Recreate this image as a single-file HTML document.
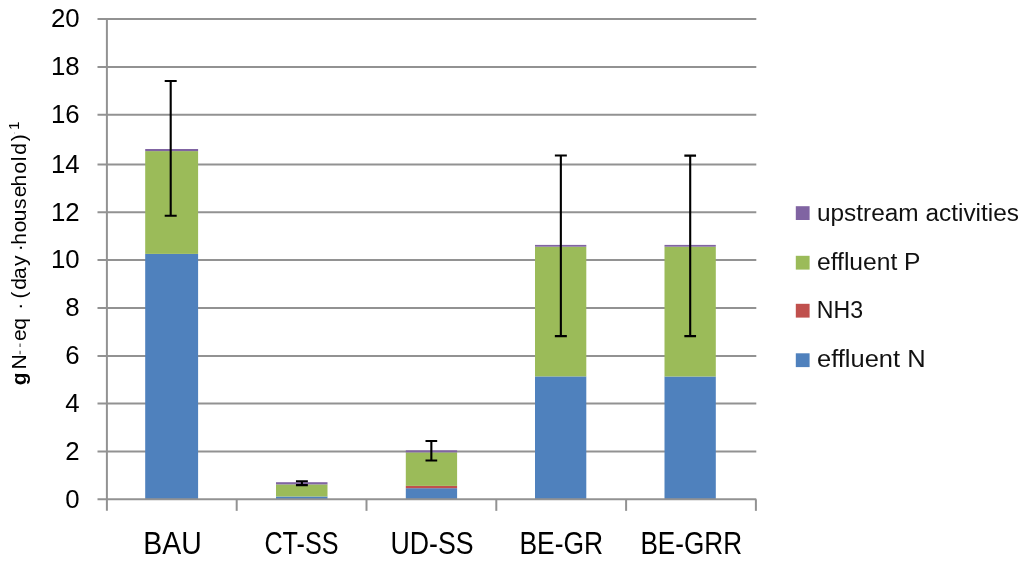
<!DOCTYPE html>
<html><head><meta charset="utf-8"><style>
html,body{margin:0;padding:0;background:#fff;}
svg{display:block;}
text{font-family:"Liberation Sans",sans-serif;fill:#000;}
.yl{font-size:25.8px;}
.cl{font-size:30.5px;}
.lg{font-size:23.5px;fill:#111;}
</style></head><body>
<svg width="1024" height="566" viewBox="0 0 1024 566">
<rect width="1024" height="566" fill="#fff"/>
<line x1="97.5" y1="18.9" x2="756.3" y2="18.9" stroke="#929292" stroke-width="2"/>
<line x1="97.5" y1="67" x2="756.3" y2="67" stroke="#929292" stroke-width="2"/>
<line x1="97.5" y1="114.7" x2="756.3" y2="114.7" stroke="#929292" stroke-width="2"/>
<line x1="97.5" y1="164.4" x2="756.3" y2="164.4" stroke="#929292" stroke-width="2"/>
<line x1="97.5" y1="212.3" x2="756.3" y2="212.3" stroke="#929292" stroke-width="2"/>
<line x1="97.5" y1="260" x2="756.3" y2="260" stroke="#929292" stroke-width="2"/>
<line x1="97.5" y1="308" x2="756.3" y2="308" stroke="#929292" stroke-width="2"/>
<line x1="97.5" y1="355.9" x2="756.3" y2="355.9" stroke="#929292" stroke-width="2"/>
<line x1="97.5" y1="403.6" x2="756.3" y2="403.6" stroke="#929292" stroke-width="2"/>
<line x1="97.5" y1="451.6" x2="756.3" y2="451.6" stroke="#929292" stroke-width="2"/>
<rect x="145.2" y="253.9" width="52.9" height="245.45" fill="#4F81BD"/>
<rect x="145.2" y="151.1" width="52.9" height="102.8" fill="#9BBB59"/>
<rect x="145.2" y="149" width="52.9" height="2.1" fill="#8064A2"/>
<rect x="276" y="496.5" width="51.5" height="2.85" fill="#4F81BD"/>
<rect x="276" y="484.4" width="51.5" height="12.1" fill="#9BBB59"/>
<rect x="276" y="482.2" width="51.5" height="2.2" fill="#8064A2"/>
<rect x="405.8" y="488.2" width="51.3" height="11.15" fill="#4F81BD"/>
<rect x="405.8" y="485.9" width="51.3" height="2.3" fill="#C0504D"/>
<rect x="405.8" y="452.4" width="51.3" height="33.5" fill="#9BBB59"/>
<rect x="405.8" y="450.3" width="51.3" height="2.1" fill="#8064A2"/>
<rect x="535" y="376.4" width="51.3" height="122.95" fill="#4F81BD"/>
<rect x="535" y="246.7" width="51.3" height="129.7" fill="#9BBB59"/>
<rect x="535" y="244.9" width="51.3" height="1.8" fill="#8064A2"/>
<rect x="664.5" y="376.5" width="51.3" height="122.85" fill="#4F81BD"/>
<rect x="664.5" y="246.7" width="51.3" height="129.8" fill="#9BBB59"/>
<rect x="664.5" y="244.9" width="51.3" height="1.8" fill="#8064A2"/>
<line x1="106.9" y1="17.9" x2="106.9" y2="510.85" stroke="#929292" stroke-width="2"/>
<line x1="97.5" y1="499.35" x2="756.3" y2="499.35" stroke="#929292" stroke-width="2"/>
<line x1="236.7" y1="499.35" x2="236.7" y2="510.85" stroke="#929292" stroke-width="2"/>
<line x1="366.5" y1="499.35" x2="366.5" y2="510.85" stroke="#929292" stroke-width="2"/>
<line x1="496.3" y1="499.35" x2="496.3" y2="510.85" stroke="#929292" stroke-width="2"/>
<line x1="626.1" y1="499.35" x2="626.1" y2="510.85" stroke="#929292" stroke-width="2"/>
<line x1="755.9" y1="499.35" x2="755.9" y2="510.85" stroke="#929292" stroke-width="2"/>
<path d="M170.7 81V215.8M164.7 81H176.7M164.7 215.8H176.7" stroke="#000" stroke-width="2.1" fill="none"/>
<path d="M301.9 481.3V485.1M295.95 481.3H307.85M295.95 485.1H307.85" stroke="#000" stroke-width="2.1" fill="none"/>
<path d="M431.35 441V460.5M425.5 441H437.2M425.5 460.5H437.2" stroke="#000" stroke-width="2.1" fill="none"/>
<path d="M560.85 155.5V336.1M554.85 155.5H566.85M554.85 336.1H566.85" stroke="#000" stroke-width="2.1" fill="none"/>
<path d="M690.2 155.6V336.1M684.35 155.6H696.05M684.35 336.1H696.05" stroke="#000" stroke-width="2.1" fill="none"/>
<text x="79.6" y="27.2" text-anchor="end" class="yl">20</text>
<text x="79.6" y="75.3" text-anchor="end" class="yl">18</text>
<text x="79.6" y="123" text-anchor="end" class="yl">16</text>
<text x="79.6" y="172.7" text-anchor="end" class="yl">14</text>
<text x="79.6" y="220.6" text-anchor="end" class="yl">12</text>
<text x="79.6" y="268.3" text-anchor="end" class="yl">10</text>
<text x="79.6" y="316.3" text-anchor="end" class="yl">8</text>
<text x="79.6" y="364.2" text-anchor="end" class="yl">6</text>
<text x="79.6" y="411.9" text-anchor="end" class="yl">4</text>
<text x="79.6" y="459.9" text-anchor="end" class="yl">2</text>
<text x="79.6" y="507.65" text-anchor="end" class="yl">0</text>
<text x="143.28" y="553.7" class="cl" textLength="58.44" lengthAdjust="spacingAndGlyphs">BAU</text>
<text x="264.43" y="553.7" class="cl" textLength="74.15" lengthAdjust="spacingAndGlyphs">CT-SS</text>
<text x="390.41" y="553.7" class="cl" textLength="83.14" lengthAdjust="spacingAndGlyphs">UD-SS</text>
<text x="519.38" y="553.7" class="cl" textLength="83.71" lengthAdjust="spacingAndGlyphs">BE-GR</text>
<text x="640.42" y="553.7" class="cl" textLength="101.62" lengthAdjust="spacingAndGlyphs">BE-GRR</text>
<text x="816.98" y="221.4" class="lg" textLength="202.04" lengthAdjust="spacingAndGlyphs">upstream activities</text>
<text x="816.98" y="269.7" class="lg" textLength="103.56" lengthAdjust="spacingAndGlyphs">effluent P</text>
<text x="816.82" y="317.7" class="lg" textLength="46.26" lengthAdjust="spacingAndGlyphs">NH3</text>
<text x="816.97" y="367.4" class="lg" textLength="108.59" lengthAdjust="spacingAndGlyphs">effluent N</text>
<rect x="795.8" y="206.2" width="13.8" height="13.8" fill="#8064A2"/>
<rect x="795.8" y="255.8" width="13.8" height="13.8" fill="#9BBB59"/>
<rect x="795.8" y="303.8" width="13.8" height="13.8" fill="#C0504D"/>
<rect x="795.8" y="353.3" width="13.8" height="13.8" fill="#4F81BD"/>
<g transform="translate(26.3 400) rotate(-90)"><text class="yt" x="14.8 27.62 30.42 45.38 52.63 58.93 70.39 82.07 90.21 97.21 101.43 110.39 120.92 134.05 148.71 155.35 167.76 178.78 191.08 202.73 213.6 226.41 238.85 245.39 258.65 266.12 270.1" y="0" style="font-size:21px"><tspan font-weight="bold">g</tspan> N<tspan y="-2.3" style="font-size:14px" font-weight="bold" fill="#8a8a8a">--</tspan><tspan y="0">eq · (day·household)</tspan><tspan y="-10.2" style="font-size:6.5px" fill="#999">-</tspan><tspan y="-7" style="font-size:15.4px">1</tspan></text></g>
</svg>
</body></html>
